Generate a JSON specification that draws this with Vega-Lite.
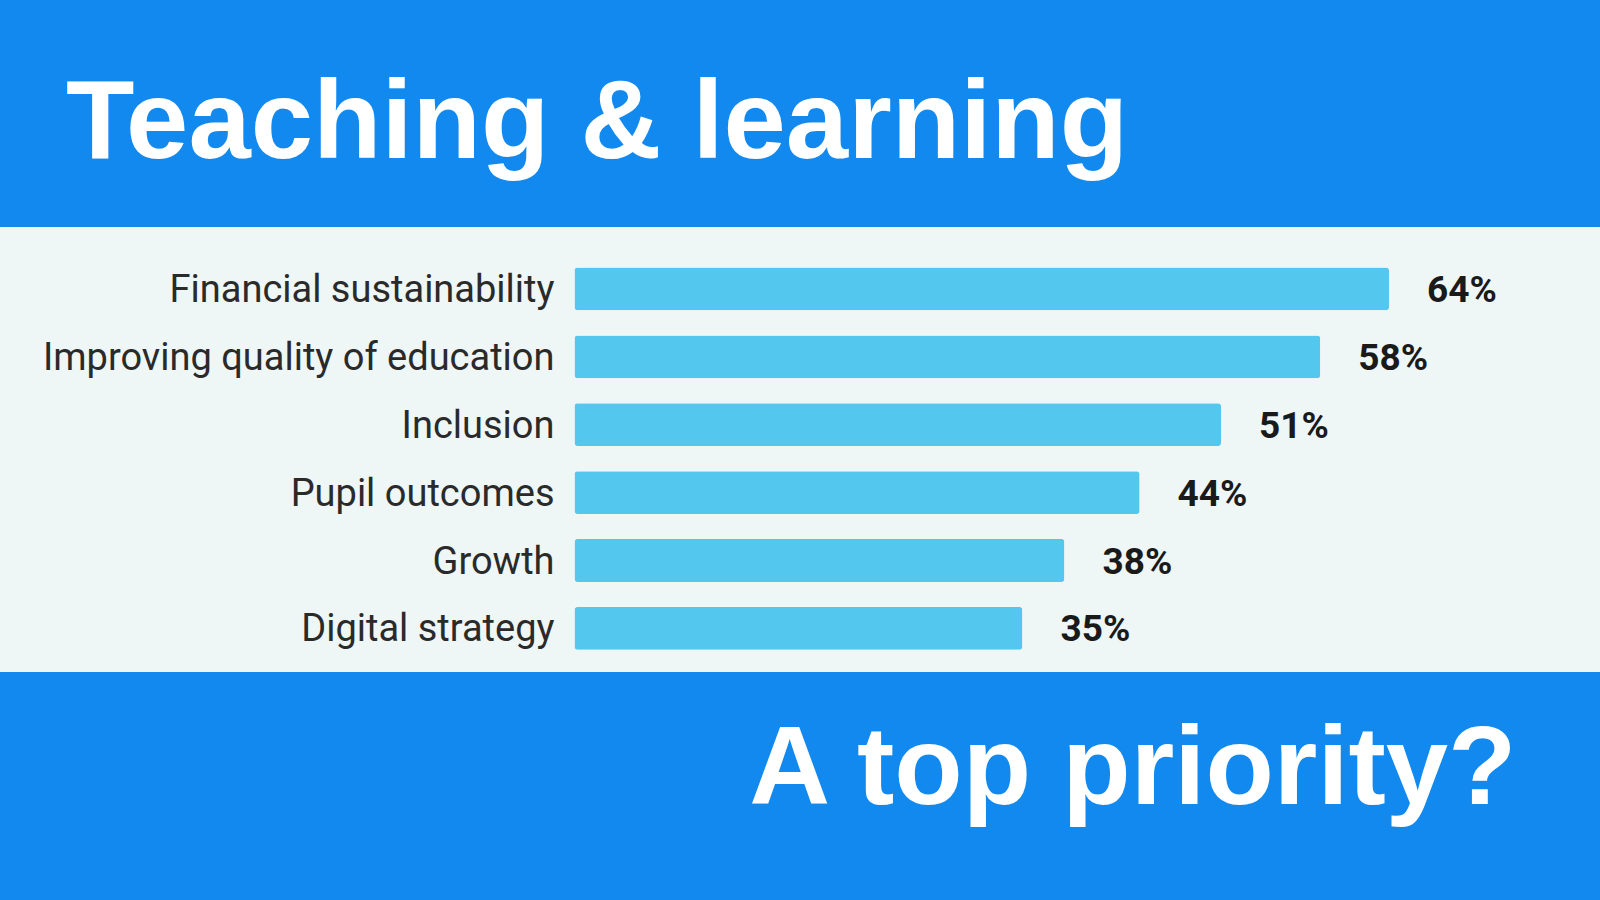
{
  "$schema": "https://vega.github.io/schema/vega-lite/v6.json",
  "width": 1600,
  "height": 445,
  "autosize": {"type": "none"},
  "padding": {"top": 227, "bottom": 228, "left": 0, "right": 0},
  "background": "#1289EE",
  "title": {
    "text": "Teaching & learning",
    "anchor": "start",
    "frame": "group",
    "dx": 66,
    "dy": 112,
    "offset": 69,
    "baseline": "alphabetic",
    "font": "Liberation Sans",
    "fontWeight": "bold",
    "fontSize": 112,
    "color": "#FFFFFF"
  },
  "data": {
    "values": [
      {"priority": "Financial sustainability", "pct": 64, "label": "64%"},
      {"priority": "Improving quality of education", "pct": 58.6, "label": "58%"},
      {"priority": "Inclusion", "pct": 50.8, "label": "51%"},
      {"priority": "Pupil outcomes", "pct": 44.4, "label": "44%"},
      {"priority": "Growth", "pct": 38.5, "label": "38%"},
      {"priority": "Digital strategy", "pct": 35.2, "label": "35%"}
    ]
  },
  "encoding": {
    "y": {
      "field": "priority",
      "type": "nominal",
      "sort": null,
      "scale": {"paddingInner": 0.37, "paddingOuter": 0.462, "align": 0.646},
      "axis": {
        "title": null,
        "domain": false,
        "ticks": false,
        "offset": -554,
        "labelPadding": 0,
        "labelOffset": 2,
        "labelFont": "Roboto",
        "labelFontSize": 38,
        "labelColor": "#2a2a2a",
        "labelLimit": 0
      }
    },
    "x": {
      "field": "pct",
      "type": "quantitative",
      "scale": {"domain": [-45.14, 80.58], "nice": false, "zero": false},
      "axis": {
        "title": "A top priority?",
        "labels": false,
        "ticks": false,
        "domain": false,
        "grid": false,
        "titleFont": "Liberation Sans",
        "titleFontWeight": "bold",
        "titleFontSize": 112,
        "titleColor": "#FFFFFF",
        "titleBaseline": "alphabetic",
        "titlePadding": 131,
        "titleX": 1516,
        "titleAlign": "right"
      }
    }
  },
  "layer": [
    {"mark": {"type": "bar", "color": "#54C7EE", "cornerRadius": 3}},
    {
      "mark": {"type": "text", "align": "left", "baseline": "middle", "dx": 38, "dy": 2, "font": "Roboto", "fontWeight": "bold", "fontSize": 37, "color": "#1a1a1a"},
      "encoding": {"text": {"field": "label"}}
    }
  ],
  "config": {"view": {"fill": "#EEF6F6", "stroke": null}}
}
